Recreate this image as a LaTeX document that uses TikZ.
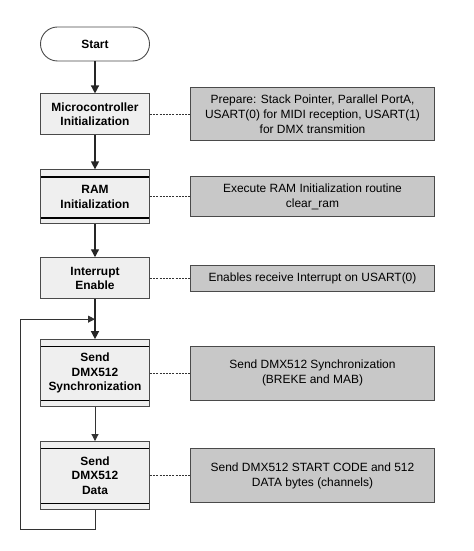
\documentclass[tikz,border=0pt]{standalone}
\usepackage{fontspec}
\setmainfont{Liberation Sans}
\usepackage{xcolor}
\definecolor{dmxLine}{HTML}{4A4A4A}
\definecolor{dmxStep}{HTML}{EFEFEF}
\definecolor{dmxNote}{HTML}{C8C8C8}
\usepackage{tikz}
\usetikzlibrary{arrows.meta,positioning,calc}
\tikzset{
    stepbox/.style={
        draw=dmxLine,
        fill=dmxStep,
        rectangle,
        line width=0.9bp,
        align=center,
        minimum width=109bp,
        inner sep=1bp,
        font=\fontsize{12}{14.5}\selectfont\bfseries
    },
    terminal/.style={
        stepbox,
        rounded corners=17bp,
        fill=white,
        minimum height=34bp
    },
    subroutine/.style={
        stepbox,
        path picture={
            \draw[line width=1.5bp, black]
                ([yshift=-7bp]path picture bounding box.north west) --
                ([yshift=-7bp]path picture bounding box.north east);
            \draw[line width=1.5bp, black]
                ([yshift=6bp]path picture bounding box.south west) --
                ([yshift=6bp]path picture bounding box.south east);
        }
    },
    notebox/.style={
        draw=dmxLine,
        fill=dmxNote,
        rectangle,
        line width=1.1bp,
        align=center,
        minimum width=244bp,
        inner sep=1bp,
        font=\fontsize{12}{15}\selectfont
    },
    arrow/.style={
        -{Triangle[length=8bp,width=8bp]},
        line width=1.4bp,
        color=black!85
    },
    thinarrow/.style={
        -{Triangle[length=7bp,width=7bp]},
        line width=0.9bp,
        color=black!80
    },
    link/.style={
        dash pattern=on 2bp off 1.2bp,
        line width=0.9bp,
        color=black!80
    }
}
\begin{document}
\begin{tikzpicture}[x=1bp, y=1bp]
    \useasboundingbox (0,0) rectangle (474,-551);

    % Main flow
    \node[terminal] (start) at (95,-44) {Start};
    \node[stepbox, minimum height=41bp, below=32bp of start] (micro) {Microcontroller\\Initialization};
    \node[subroutine, minimum height=54bp, below=34bp of micro] (ram) {RAM\\Initialization};
    \node[stepbox, minimum height=41bp, below=33bp of ram] (intr) {Interrupt\\Enable};
    \node[subroutine, minimum height=67bp, below=40bp of intr] (sync) {Send\\DMX512\\Synchronization};
    \node[subroutine, minimum height=68bp, below=34bp of sync] (data) {Send\\DMX512\\Data};

    % Comments
    \node[notebox, minimum height=53bp, right=40bp of micro] (microNote) {Prepare: Stack Pointer, Parallel PortA,\\USART(0) for MIDI reception, USART(1)\\for DMX transmition};
    \node[notebox, minimum height=40bp, right=40bp of ram] (ramNote) {Execute RAM Initialization routine\\clear\_ram};
    \node[notebox, minimum height=26bp, right=40bp of intr] (intrNote) {Enables receive Interrupt on USART(0)};
    \node[notebox, minimum height=54bp, right=40bp of sync] (syncNote) {Send DMX512 Synchronization\\(BREKE and MAB)};
    \node[notebox, minimum height=54bp, right=40bp of data] (dataNote) {Send DMX512 START CODE and 512\\DATA bytes (channels)};

    % Connections
    \draw[arrow] (start) -- (micro);
    \draw[arrow] (micro) -- (ram);
    \draw[arrow] (ram) -- (intr);
    \draw[arrow] (intr) -- (sync);
    \draw[thinarrow] (sync) -- (data);

    \draw[link] (micro) -- (microNote);
    \draw[link] (ram) -- (ramNote);
    \draw[link] (intr) -- (intrNote);
    \draw[link] (sync) -- (syncNote);
    \draw[link] (data) -- (dataNote);

    % Loop back
    \coordinate (loopin) at ($(intr.south)!0.5!(sync.north)$);
    \coordinate (loopbot) at ([yshift=-19bp]data.south);
    \draw[thinarrow] (data.south) -- (loopbot) -- ++(-75,0) |- (loopin);
\end{tikzpicture}
\end{document}
